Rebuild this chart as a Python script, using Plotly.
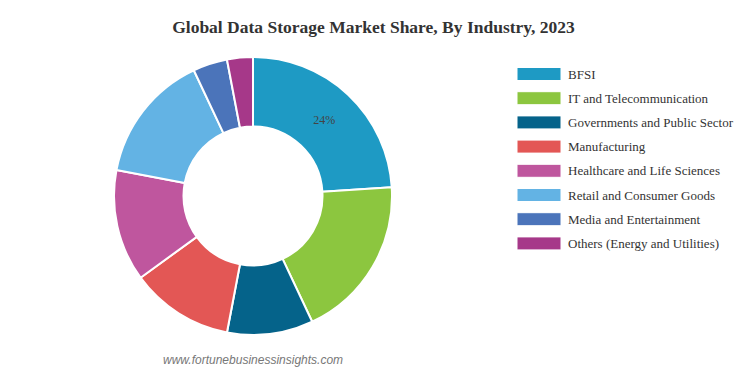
import plotly.graph_objects as go

categories = ["BFSI", "IT and Telecommunication", "Governments and Public Sector",
              "Manufacturing", "Healthcare and Life Sciences", "Retail and Consumer Goods",
              "Media and Entertainment", "Others (Energy and Utilities)"]
shares = [24, 19, 10, 12, 13, 15, 4, 3]
labels_shown = ["24%", "", "", "", "", "", "", ""]
colors = ["#1e9ac4", "#8cc63f", "#05638a", "#e35755", "#bf569e", "#63b3e4", "#4b74ba", "#a63889"]

W, H = 745, 372

fig = go.Figure()
fig.add_trace(go.Pie(
    labels=categories, values=shares, text=labels_shown, texttemplate="%{text}",
    textinfo="text", textposition="inside", insidetextorientation="horizontal",
    textfont=dict(family="Liberation Serif, Times New Roman, serif", size=12, color="#444"),
    marker=dict(colors=colors, line=dict(color="white", width=2)),
    hole=0.5, sort=False, direction="clockwise", rotation=0,
    domain=dict(x=[114 / W, 392 / W], y=[1 - 335 / H, 1 - 57 / H]),
    showlegend=False,
))

# custom legend with wide rectangular swatches
shapes, annotations = [], []
x0, x1, y_first, step = 517, 561, 74, 24.2
for i, (cat, col) in enumerate(zip(categories, colors)):
    yc = y_first + i * step
    shapes.append(dict(type="rect", xref="paper", yref="paper",
                       x0=x0 / W, x1=x1 / W, y0=1 - (yc + 6.5) / H, y1=1 - (yc - 6.5) / H,
                       fillcolor=col, line=dict(color="white", width=1)))
    annotations.append(dict(text=cat, xref="paper", yref="paper", x=565.5 / W, y=1 - yc / H,
                            xanchor="left", yanchor="middle", showarrow=False,
                            font=dict(family="Liberation Serif, Times New Roman, serif", size=13, color="#333")))

annotations.append(dict(text="<i>www.fortunebusinessinsights.com</i>", xref="paper", yref="paper",
                        x=253 / W, y=1 - 360 / H, xanchor="center", yanchor="middle", showarrow=False,
                        font=dict(family="Liberation Sans, Arial, sans-serif", size=12, color="#777")))

fig.update_layout(
    width=W, height=H, margin=dict(l=0, r=0, t=0, b=0),
    paper_bgcolor="white", plot_bgcolor="white",
    title=dict(text="<b>Global Data Storage Market Share, By Industry, 2023</b>",
               x=373.5 / W, xanchor="center", y=1 - 27 / H, yanchor="middle",
               font=dict(family="Liberation Serif, Times New Roman, serif", size=17.5, color="#333")),
    shapes=shapes, annotations=annotations,
)

fig.write_html("out.html", config={"displayModeBar": False},
               post_script="document.body.style.margin='0';document.body.style.overflow='hidden';")
